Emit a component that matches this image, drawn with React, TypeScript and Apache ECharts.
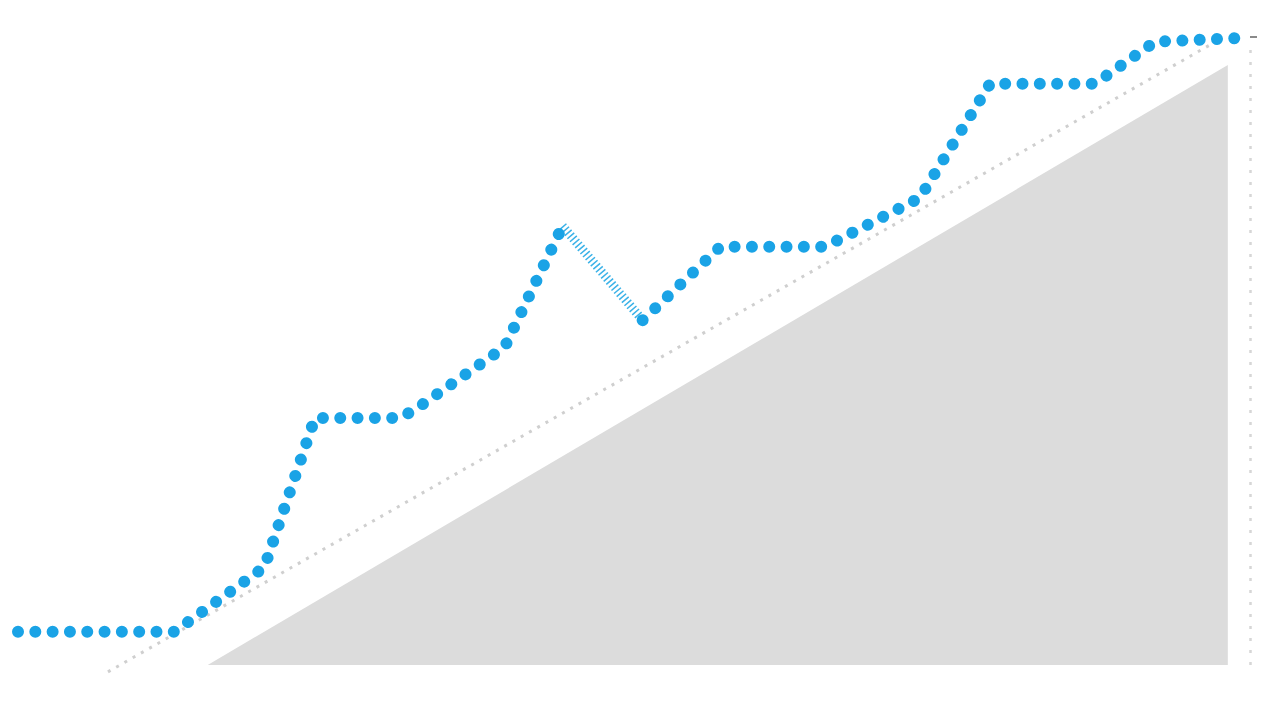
import React, { useEffect, useRef } from "react";
import * as echarts from "echarts";

// Progress line (x: time %, y: value %)
const progressX = [0, 12.7, 20.0, 24.1, 31.0, 32.2, 39.5, 44.2, 50.7, 57.0, 65.5, 73.2, 78.9, 87.4, 92.3, 99.2];
const progressY = [5.3, 5.3, 15.6, 39.4, 39.4, 40.7, 50.7, 70.0, 55.0, 66.7, 66.7, 74.5, 92.7, 92.7, 99.4, 100];
const peakIndex = 7; // drop segment between peak and trough
// Reference trend line
const trendX = [7.3, 97.2];
const trendY = [-1.1, 99.4];
// Shaded target area
const areaX = [15.4, 98.2];
const areaY = [0, 95.7];
const endX = 100;

const pairs = (xs: number[], ys: number[]) => xs.map((x, i) => [x, ys[i]]);

export default function App() {
  const ref = useRef<HTMLDivElement>(null);
  useEffect(() => {
    if (!ref.current) return;
    const chart = echarts.init(ref.current, null, { renderer: "svg" });
    const all = pairs(progressX, progressY);
    chart.setOption({
      animation: false,
      backgroundColor: "#ffffff",
      grid: { left: 18, right: 30, top: 38, bottom: 55 },
      xAxis: {
        type: "value", min: 0, max: 100,
        axisLine: { show: false }, axisTick: { show: false },
        axisLabel: { show: false }, splitLine: { show: false },
      },
      yAxis: {
        type: "value", min: 0, max: 100,
        axisLine: { show: false }, axisTick: { show: false },
        axisLabel: { show: false }, splitLine: { show: false },
      },
      series: [
        {
          type: "line",
          data: pairs(areaX, areaY),
          symbol: "none",
          lineStyle: { width: 0 },
          areaStyle: { color: "#dcdcdc", opacity: 1 },
          z: 1,
        },
        {
          type: "line",
          data: pairs(trendX, trendY),
          symbol: "none",
          clip: false,
          lineStyle: { color: "#cfcfcf", width: 3, type: [3, 6.5] },
          z: 2,
          markLine: {
            silent: true,
            symbol: "none",
            label: { show: false },
            lineStyle: { color: "#d6d6d6", width: 2.5, type: [3, 9] },
            data: [[{ coord: [endX, 0] }, { coord: [endX, 99.4] }]],
          },
        },
        {
          type: "line",
          data: all.slice(0, peakIndex + 1),
          symbol: "none",
          clip: false,
          lineStyle: { color: "#1aa3e6", width: 12, type: [0.01, 17.3], cap: "round" },
          z: 5,
        },
        {
          type: "line",
          data: all.slice(peakIndex, peakIndex + 2),
          symbol: "none",
          clip: false,
          lineStyle: { color: "#3ab2e8", width: 9, type: [1.5, 2.5], cap: "butt" },
          z: 4,
        },
        {
          type: "line",
          data: all.slice(peakIndex + 1),
          symbol: "none",
          clip: false,
          lineStyle: { color: "#1aa3e6", width: 12, type: [0.01, 17.3], cap: "round" },
          z: 5,
        },
      ],
      graphic: [
        { type: "line", shape: { x1: 1250, y1: 37, x2: 1257, y2: 37 }, style: { stroke: "#8a8a8a", lineWidth: 2 } },
      ],
    });
    return () => chart.dispose();
  }, []);
  return (
    <div
      ref={ref}
      style={{ position: "fixed", left: 0, top: 0, width: 1280, height: 720 }}
    />
  );
}
